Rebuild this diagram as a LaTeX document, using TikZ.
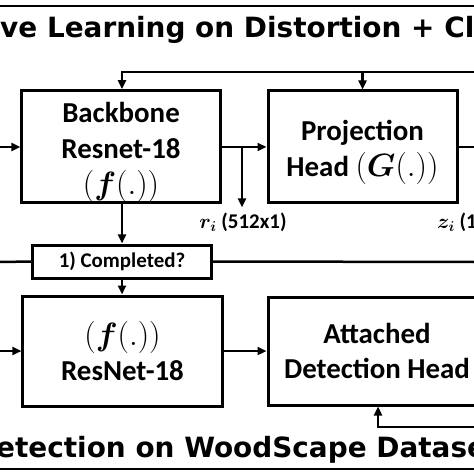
\documentclass[tikz,border=0pt]{standalone}
\usepackage{amsmath,bm}
\usepackage{graphicx}
\usepackage{fontspec}
\setmainfont{Carlito}
\newfontfamily\titlefont{DejaVu Sans}
\usetikzlibrary{arrows.meta, positioning, calc}

\newcommand{\bigmath}[1]{\scalebox{1.3}{$#1$}}
\newcommand{\toppad}{\rule{0pt}{32bp}}

\begin{document}
\begin{tikzpicture}[
    x=1bp, y=-1bp,
    box/.style={
      rectangle, draw, line width=3bp, align=center,
      font=\fontsize{29}{36}\selectfont\bfseries, inner sep=0pt
    },
    smallbox/.style={
      rectangle, draw, line width=3bp, align=center,
      font=\fontsize{21}{26}\selectfont\bfseries, inner sep=0pt,
      minimum width=178bp, minimum height=33bp
    },
    arrow/.style={-{Triangle[length=9bp, width=8bp]}, line width=2.5bp},
    link/.style={line width=2.5bp},
    title/.style={font=\fontsize{28}{30}\selectfont\titlefont\bfseries, inner sep=0pt},
    dimlabel/.style={font=\fontsize{21}{24}\selectfont\bfseries, inner sep=0pt},
]
  \useasboundingbox (0,0) rectangle (474,474);

  % frame lines and titles
  \draw[line width=1.5bp] (0,6) -- (474,6);
  \draw[line width=1.5bp] (0,469) -- (474,469);
  \node[title, anchor=base west] (toptitle) at (0,37.5) {ve Learning on Distortion + Cl};
  \node[title, anchor=base west] (bottitle) at (-4,457) {etection on WoodScape Datase};

  % upper row
  \node[box, minimum width=198bp, minimum height=111bp] (backbone) at (121,146.5)
    {\toppad Backbone\\Resnet-18\\\bigmath{(\bm{f}(.))}};
  \node[box, minimum width=189bp, minimum height=111bp] (proj) at (362.5,146.5)
    {\toppad Projection\\Head \bigmath{(\bm{G}(.))}};
  \node[dimlabel, anchor=center] (ri) at (243,222) {$\bm{r_i}$ (512x1)};
  \node[dimlabel, anchor=west] (zi) at (437,222) {$\bm{z_i}$ (1};

  % decision bar
  \node[smallbox] (done) at (122,261.5) {1) Completed?};

  % lower row
  \node[box, minimum width=199bp, minimum height=110bp] (resnet) at (122.5,351)
    {\bigmath{(\bm{f}(.))}\\ResNet-18};
  \node[box, minimum width=218bp, minimum height=108bp] (dethead) at (377,351)
    {Attached\\Detection Head};

  \coordinate (inA) at (0,147);
  \coordinate (inB) at (0,351);
  \coordinate (outA) at (474,147);
  \coordinate (fbTop) at (474,72);
  \coordinate (fbBot) at (474,427);
  \coordinate (split) at (242,147);
  \coordinate (barL) at (0,262);
  \coordinate (barR) at (474,262);

  \draw[arrow] (inA) -- (backbone.west |- inA);
  \draw[arrow] (backbone.east |- inA) -- (proj.west |- inA);
  \draw[arrow] (split) -- ($(ri.north)+(-1,-5)$);
  \draw[link] (proj.east |- outA) -- (outA);
  \draw[arrow] (fbTop) -| ($(backbone.north)+(1,0)$);
  \draw[arrow] (proj.north |- fbTop) -- (proj.north);
  \draw[arrow] ($(backbone.south)+(1,0)$) -- (done.north);
  \draw[link] (barL) -- (done.west);
  \draw[link] (done.east) -- (barR);
  \draw[arrow] (done.south) -- (done.south |- resnet.north);
  \draw[arrow] (inB) -- (resnet.west);
  \draw[arrow] (resnet.east) -- (dethead.west);
  \draw[arrow] (fbBot) -| ($(dethead.south)+(1,0)$);
\end{tikzpicture}
\end{document}
